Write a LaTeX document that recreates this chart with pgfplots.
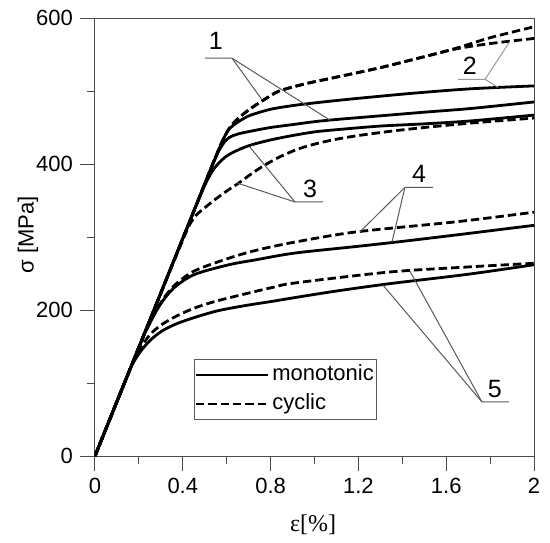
\documentclass[border=0pt]{standalone}
\usepackage{fontspec}
\setmainfont{Liberation Sans}
\newfontfamily\serifx{Liberation Serif}
\usepackage{pgfplots}
\pgfplotsset{compat=1.18}
\begin{document}
\begin{tikzpicture}
\path[use as bounding box] (-47.5pt,-43pt) rectangle (227.5pt,228pt);
\begin{axis}[
  scale only axis, width=219.5pt, height=219pt,
  xmin=0, xmax=2, ymin=0, ymax=600,
  xtick={0,0.4,0.8,1.2,1.6,2},
  xticklabels={0,0.4,0.8,1.2,1.6,2},
  ytick={0,200,400,600},
  yticklabels={0,200,400,600},
  minor xtick={0.2,0.6,1.0,1.4,1.8},
  minor ytick={100,300,500},
  tick align=outside,
  xtick pos=bottom, ytick pos=left,
  major tick length=7.5pt, minor tick length=4pt,
  tick style={black!70, line width=0.5pt},
  axis line style={black!70, line width=0.5pt},
  ticklabel style={font=\fontsize{11}{13}\selectfont},
  xlabel={ε[\%]},
  ylabel={σ [MPa]},
  xlabel style={at={(axis description cs:0.497,-0.158)}, anchor=center, font=\serifx\fontsize{12}{14}\selectfont},
  ylabel style={at={(axis description cs:-0.153,0.505)}, anchor=center, font=\fontsize{11}{13}\selectfont},
  legend style={at={(axis description cs:0.2255,0.2215)}, anchor=north west,
    draw=black!65, line width=0.5pt, fill=white, inner xsep=0pt, inner ysep=1pt,
    font=\fontsize{11}{13}\selectfont, row sep=1pt,
    nodes={inner xsep=1.5pt, inner ysep=1.5pt, text height=8pt, text depth=2.5pt}},
  legend cell align=left,
  legend image code/.code={\draw[#1] (0pt,0pt) -- (36pt,0pt);},
  mono/.style={black, line width=1.4pt, smooth, tension=0.5, forget plot},
  cyc/.style={black, line width=1.4pt, smooth, tension=0.5, dash pattern=on 4.2pt off 2pt, forget plot},
]
\addlegendimage{black, line width=1.4pt}
\addlegendentry{monotonic}
\addlegendimage{black, line width=1.4pt, dash pattern=on 4.2pt off 2pt}
\addlegendentry{cyclic}

% curve A (cyclic, top)
\addplot[cyc] coordinates {(0,0) (0.2,149) (0.4,298) (0.55,410) (0.6,443) (0.64,459) (0.7,474) (0.77,488) (0.84,500) (0.96,510) (1.1,519) (1.3,532) (1.5,547) (1.65,559) (1.8,573) (2,588)};
% curve B (cyclic)
\addplot[cyc] coordinates {(0,0) (0.2,149) (0.4,298) (0.55,410) (0.6,443) (0.64,459) (0.7,474) (0.77,488) (0.84,500) (0.96,510) (1.1,519) (1.3,532) (1.5,547) (1.65,558) (1.8,565) (2,572)};
% curve C (monotonic)
\addplot[mono] coordinates {(0,0) (0.2,149) (0.4,298) (0.55,410) (0.6,443) (0.63,453) (0.67,461) (0.71,467) (0.8,475) (0.9,480) (0.98,483) (1.07,486) (1.2,490) (1.45,497) (1.71,503) (2,507)};
% curve D (monotonic)
\addplot[mono] coordinates {(0,0) (0.2,149) (0.4,298) (0.54,402) (0.58,426) (0.61,436) (0.65,441) (0.71,445) (0.8,450) (0.9,454) (1.0,458) (1.1,461) (1.3,466) (1.5,471) (1.71,476) (2,485)};
% curve E (monotonic)
\addplot[mono] coordinates {(0,0) (0.2,149) (0.4,298) (0.49,364) (0.53,388) (0.56,400) (0.6,411) (0.65,419) (0.71,426) (0.8,433) (0.9,439) (1.0,444) (1.1,447) (1.3,452) (1.5,455) (1.71,459) (2,467)};
% curve F (cyclic)
\addplot[cyc] coordinates {(0,0) (0.2,149) (0.4,296) (0.45,326) (0.5,340) (0.55,352) (0.6,363) (0.66,375) (0.71,386) (0.77,398) (0.85,411) (0.93,421) (1.01,428) (1.1,434) (1.2,439) (1.35,445) (1.5,450) (1.71,456) (2,463)};
% curve G (cyclic, 4)
\addplot[cyc] coordinates {(0,0) (0.2,149) (0.24,176) (0.28,200) (0.32,219) (0.37,236) (0.456,254) (0.61,271) (0.737,282) (0.91,293) (1.19,307) (1.65,321) (2,334)};
% curve H (monotonic, 4)
\addplot[mono] coordinates {(0,0) (0.2,149) (0.24,176) (0.28,199) (0.32,217) (0.37,233) (0.456,249) (0.61,262) (0.737,269) (0.91,278) (1.19,287) (1.4,294) (1.65,303) (2,316)};
% curve I (cyclic, 5)
\addplot[cyc] coordinates {(0,0) (0.15,112) (0.2,144) (0.25,166) (0.304,180) (0.373,192) (0.456,203) (0.55,212) (0.683,222) (0.81,231) (0.91,237) (1.34,252) (1.7,259) (2,264)};
% curve J (monotonic, 5)
\addplot[mono] coordinates {(0,0) (0.15,112) (0.2,140) (0.25,158) (0.304,171) (0.37,181) (0.456,190) (0.56,199) (0.683,206) (0.81,212) (0.91,217) (1.1,226) (1.34,236) (1.7,249) (2,262)};

% annotations
\draw[black!65, line width=0.5pt] (axis cs:0.501,545) -- (axis cs:0.624,545) -- (axis cs:0.761,488);
\draw[black!65, line width=0.5pt] (axis cs:0.624,545) -- (axis cs:1.071,460);
\node[font=\fontsize{12.5}{14}\selectfont] at (axis cs:0.551,569) {1};

\draw[black!40, line width=0.5pt] (axis cs:1.654,516) -- (axis cs:1.777,516) -- (axis cs:1.89,568);
\draw[black!40, line width=0.5pt] (axis cs:1.777,516) -- (axis cs:1.836,505);
\node[font=\fontsize{12.5}{14}\selectfont] at (axis cs:1.708,535) {2};

\draw[black!65, line width=0.5pt] (axis cs:1.039,348) -- (axis cs:0.911,348) -- (axis cs:0.706,423);
\draw[black!65, line width=0.5pt] (axis cs:0.911,348) -- (axis cs:0.647,374);
\node[font=\fontsize{12.5}{14}\selectfont] at (axis cs:0.98,366) {3};

\draw[black!65, line width=0.5pt] (axis cs:1.540,368) -- (axis cs:1.412,368) -- (axis cs:1.207,307);
\draw[black!65, line width=0.5pt] (axis cs:1.412,368) -- (axis cs:1.353,293);
\node[font=\fontsize{12.5}{14}\selectfont] at (axis cs:1.476,386) {4};

\draw[black!65, line width=0.5pt] (axis cs:1.886,74) -- (axis cs:1.763,74) -- (axis cs:1.312,234);
\draw[black!65, line width=0.5pt] (axis cs:1.763,74) -- (axis cs:1.435,253);
\node[font=\fontsize{12.5}{14}\selectfont] at (axis cs:1.822,92) {5};
\end{axis}
\end{tikzpicture}
\end{document}
